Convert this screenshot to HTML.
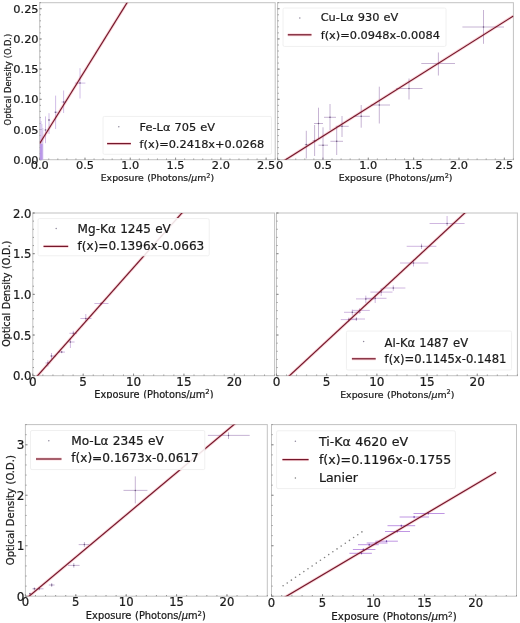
<!DOCTYPE html>
<html><head><meta charset="utf-8"><title>Optical density calibration</title>
<style>html,body{margin:0;padding:0;background:#fff}svg{display:block}text{font-family:"DejaVu Sans","Liberation Sans",sans-serif;fill:#1a1a1a;stroke:#1a1a1a;stroke-width:0.22px;word-spacing:0.5px}</style></head><body>
<svg width="520" height="623" viewBox="0 0 520 623">
<rect width="520" height="623" fill="#fff"/>
<defs>
<clipPath id="c1"><rect x="39.7" y="2.7" width="235.5" height="157"/></clipPath>
<clipPath id="c2"><rect x="277.6" y="2.7" width="235.8" height="157"/></clipPath>
<clipPath id="c3"><rect x="32.8" y="213" width="241.8" height="162.7"/></clipPath>
<clipPath id="c4"><rect x="276.5" y="213" width="240.9" height="162.7"/></clipPath>
<clipPath id="c5"><rect x="25.4" y="424.6" width="241.9" height="171.6"/></clipPath>
<clipPath id="c6"><rect x="271.5" y="424.6" width="245" height="171.6"/></clipPath>
</defs>
<rect x="39.7" y="2.7" width="235.5" height="157" fill="#fff" stroke="#c2c2c2" stroke-width="1"/>
<path d="M39.7 159.7v-1.2M48.76 159.7v-1.2M57.82 159.7v-1.2M66.87 159.7v-1.2M75.93 159.7v-1.2M84.99 159.7v-1.2M94.05 159.7v-1.2M103.1 159.7v-1.2M112.16 159.7v-1.2M121.22 159.7v-1.2M130.28 159.7v-1.2M139.33 159.7v-1.2M148.39 159.7v-1.2M157.45 159.7v-1.2M166.51 159.7v-1.2M175.57 159.7v-1.2M184.62 159.7v-1.2M193.68 159.7v-1.2M202.74 159.7v-1.2M211.8 159.7v-1.2M220.85 159.7v-1.2M229.91 159.7v-1.2M238.97 159.7v-1.2M248.03 159.7v-1.2M257.08 159.7v-1.2M266.14 159.7v-1.2M275.2 159.7v-1.2M39.7 159.7v-2.2M84.99 159.7v-2.2M130.28 159.7v-2.2M175.57 159.7v-2.2M220.85 159.7v-2.2M266.14 159.7v-2.2M39.7 159.7h1.2M39.7 153.66h1.2M39.7 147.62h1.2M39.7 141.58h1.2M39.7 135.55h1.2M39.7 129.51h1.2M39.7 123.47h1.2M39.7 117.43h1.2M39.7 111.39h1.2M39.7 105.35h1.2M39.7 99.32h1.2M39.7 93.28h1.2M39.7 87.24h1.2M39.7 81.2h1.2M39.7 75.16h1.2M39.7 69.12h1.2M39.7 63.08h1.2M39.7 57.05h1.2M39.7 51.01h1.2M39.7 44.97h1.2M39.7 38.93h1.2M39.7 32.89h1.2M39.7 26.85h1.2M39.7 20.82h1.2M39.7 14.78h1.2M39.7 8.74h1.2M39.7 2.7h1.2M39.7 159.7h2.2M39.7 129.51h2.2M39.7 99.32h2.2M39.7 69.12h2.2M39.7 38.93h2.2M39.7 8.74h2.2" stroke="#808080" stroke-width="0.8" fill="none"/>
<rect x="277.6" y="2.7" width="235.8" height="157" fill="#fff" stroke="#c2c2c2" stroke-width="1"/>
<path d="M277.6 159.7v-1.2M286.67 159.7v-1.2M295.74 159.7v-1.2M304.81 159.7v-1.2M313.88 159.7v-1.2M322.95 159.7v-1.2M332.02 159.7v-1.2M341.08 159.7v-1.2M350.15 159.7v-1.2M359.22 159.7v-1.2M368.29 159.7v-1.2M377.36 159.7v-1.2M386.43 159.7v-1.2M395.5 159.7v-1.2M404.57 159.7v-1.2M413.64 159.7v-1.2M422.71 159.7v-1.2M431.78 159.7v-1.2M440.85 159.7v-1.2M449.92 159.7v-1.2M458.98 159.7v-1.2M468.05 159.7v-1.2M477.12 159.7v-1.2M486.19 159.7v-1.2M495.26 159.7v-1.2M504.33 159.7v-1.2M513.4 159.7v-1.2M277.6 159.7v-2.2M322.95 159.7v-2.2M368.29 159.7v-2.2M413.64 159.7v-2.2M458.98 159.7v-2.2M504.33 159.7v-2.2M277.6 159.7h1.2M277.6 153.66h1.2M277.6 147.62h1.2M277.6 141.58h1.2M277.6 135.55h1.2M277.6 129.51h1.2M277.6 123.47h1.2M277.6 117.43h1.2M277.6 111.39h1.2M277.6 105.35h1.2M277.6 99.32h1.2M277.6 93.28h1.2M277.6 87.24h1.2M277.6 81.2h1.2M277.6 75.16h1.2M277.6 69.12h1.2M277.6 63.08h1.2M277.6 57.05h1.2M277.6 51.01h1.2M277.6 44.97h1.2M277.6 38.93h1.2M277.6 32.89h1.2M277.6 26.85h1.2M277.6 20.82h1.2M277.6 14.78h1.2M277.6 8.74h1.2M277.6 2.7h1.2M277.6 159.7h2.2M277.6 129.51h2.2M277.6 99.32h2.2M277.6 69.12h2.2M277.6 38.93h2.2M277.6 8.74h2.2" stroke="#808080" stroke-width="0.8" fill="none"/>
<g clip-path="url(#c1)">
<path d="M40.1 117.5V160M41 121V160M41.9 124V160M42.8 128V160" stroke="#cbb6ea" stroke-width="0.8" fill="none"/>
<rect x="39.7" y="144" width="2.9" height="16" fill="#b48ee6" opacity="0.85"/>
</g>
<path d="M74.8 83.1H85.4M80 68.2V98.5M61.5 102H66M63.6 90.5V113M54 112.2H57.5M55.6 95.6V129M48 120H50.2M49 113.2V134M44.6 130H46.4M45.5 116.4V143.2" stroke="#b99bdc" stroke-width="0.65" fill="none"/>
<g fill="#6c5f7c"><circle cx="80" cy="83.1" r="0.75"/><circle cx="63.6" cy="102" r="0.75"/><circle cx="55.6" cy="112.2" r="0.75"/><circle cx="49" cy="120" r="0.75"/><circle cx="45.5" cy="130" r="0.75"/></g>
<g clip-path="url(#c1)"><line x1="39.7" y1="143.52" x2="275.2" y2="-236.11" stroke="#e8324c" stroke-opacity="0.2" stroke-width="3"/><line x1="39.7" y1="143.52" x2="275.2" y2="-236.11" stroke="#74172a" stroke-width="1.2"/></g>
<path d="M304.8 144.6H307.8M306.3 130.8V158.5M312.6 140.8H316.6M314.6 125V156M314 123.5H323M318.5 107.7V139M318.5 145.2H328M323 127.3V159.5M324 117.3H336M330 104V130M330.4 141.3H343M336.7 127V155M335.8 126.3H348.7M342 116V137M353.5 116.3H369.8M361.2 105V127.7M370.8 105H390M379.3 86.7V123.5M396 88.5H422.5M409 78.5V99.5M421.3 63.5H455M438.4 52.5V75.5M462.4 27H504M483.5 10V43.8" stroke="#a98bbd" stroke-width="0.65" fill="none"/>
<g fill="#6c5f7c"><circle cx="306.3" cy="144.6" r="0.75"/><circle cx="314.6" cy="140.8" r="0.75"/><circle cx="318.5" cy="123.5" r="0.75"/><circle cx="323" cy="145.2" r="0.75"/><circle cx="330" cy="117.3" r="0.75"/><circle cx="336.7" cy="141.3" r="0.75"/><circle cx="342" cy="126.3" r="0.75"/><circle cx="361.2" cy="116.3" r="0.75"/><circle cx="379.3" cy="105" r="0.75"/><circle cx="409" cy="88.5" r="0.75"/><circle cx="438.4" cy="63.5" r="0.75"/><circle cx="483.5" cy="27" r="0.75"/></g>
<g clip-path="url(#c2)"><line x1="277.6" y1="164.77" x2="513.4" y2="15.94" stroke="#e8324c" stroke-opacity="0.2" stroke-width="3"/><line x1="277.6" y1="164.77" x2="513.4" y2="15.94" stroke="#74172a" stroke-width="1.2"/></g>
<rect x="103" y="116.4" width="168.5" height="37.9" rx="1.5" fill="#fff" fill-opacity="0.87" stroke="#f0f0f0" stroke-width="1"/>
<circle cx="118.8" cy="126.8" r="0.75" fill="#8f889c"/>
<text x="139.6" y="130.8" font-size="11.35">Fe-Lα 705 eV</text>
<line x1="107.1" y1="143.6" x2="130.9" y2="143.6" stroke="#e8324c" stroke-opacity="0.2" stroke-width="3"/><line x1="107.1" y1="143.6" x2="130.9" y2="143.6" stroke="#74172a" stroke-width="1.25"/>
<text x="139.6" y="147.9" font-size="11.35">f(x)=0.2418x+0.0268</text>
<rect x="283" y="8" width="163" height="38.4" rx="1.5" fill="#fff" fill-opacity="0.87" stroke="#f0f0f0" stroke-width="1"/>
<circle cx="299.8" cy="18" r="0.75" fill="#8f889c"/>
<text x="320.7" y="21.4" font-size="11.35">Cu-Lα 930 eV</text>
<line x1="287.8" y1="34.8" x2="311.5" y2="34.8" stroke="#e8324c" stroke-opacity="0.2" stroke-width="3"/><line x1="287.8" y1="34.8" x2="311.5" y2="34.8" stroke="#74172a" stroke-width="1.25"/>
<text x="320.7" y="38.9" font-size="11.35">f(x)=0.0948x-0.0084</text>
<text x="38.6" y="163.84" font-size="11.35" text-anchor="end">0.00</text>
<text x="38.6" y="133.65" font-size="11.35" text-anchor="end">0.05</text>
<text x="38.6" y="103.46" font-size="11.35" text-anchor="end">0.10</text>
<text x="38.6" y="73.27" font-size="11.35" text-anchor="end">0.15</text>
<text x="38.6" y="43.07" font-size="11.35" text-anchor="end">0.20</text>
<text x="38.6" y="12.88" font-size="11.35" text-anchor="end">0.25</text>
<text x="39.7" y="168.9" font-size="11.35" text-anchor="middle">0.0</text>
<text x="84.99" y="168.9" font-size="11.35" text-anchor="middle">0.5</text>
<text x="130.28" y="168.9" font-size="11.35" text-anchor="middle">1.0</text>
<text x="175.57" y="168.9" font-size="11.35" text-anchor="middle">1.5</text>
<text x="220.85" y="168.9" font-size="11.35" text-anchor="middle">2.0</text>
<text x="266.14" y="168.9" font-size="11.35" text-anchor="middle">2.5</text>
<text x="279.7" y="168.9" font-size="11.35" text-anchor="middle">0</text>
<text x="322.95" y="168.9" font-size="11.35" text-anchor="middle">0.5</text>
<text x="368.29" y="168.9" font-size="11.35" text-anchor="middle">1.0</text>
<text x="413.64" y="168.9" font-size="11.35" text-anchor="middle">1.5</text>
<text x="458.98" y="168.9" font-size="11.35" text-anchor="middle">2.0</text>
<text x="504.33" y="168.9" font-size="11.35" text-anchor="middle">2.5</text>
<text x="157.4" y="181.3" font-size="9.3" text-anchor="middle">Exposure (Photons/<tspan font-style="italic">μ</tspan>m<tspan font-size="6.51" dy="-3.35">2</tspan><tspan dy="3.35">)</tspan></text>
<text x="395.6" y="181.3" font-size="9.35" text-anchor="middle">Exposure (Photons/<tspan font-style="italic">μ</tspan>m<tspan font-size="6.54" dy="-3.37">2</tspan><tspan dy="3.37">)</tspan></text>
<text transform="translate(10.6 79.6) rotate(-90)" font-size="8.32" text-anchor="middle">Optical Density (O.D.)</text>
<rect x="0" y="183.2" width="520" height="14" fill="#fff"/>
<rect x="32.8" y="213" width="241.8" height="162.7" fill="#fff" stroke="#c2c2c2" stroke-width="1"/>
<path d="M32.8 375.7v-1.2M42.88 375.7v-1.2M52.95 375.7v-1.2M63.02 375.7v-1.2M73.1 375.7v-1.2M83.18 375.7v-1.2M93.25 375.7v-1.2M103.33 375.7v-1.2M113.4 375.7v-1.2M123.48 375.7v-1.2M133.55 375.7v-1.2M143.62 375.7v-1.2M153.7 375.7v-1.2M163.77 375.7v-1.2M173.85 375.7v-1.2M183.93 375.7v-1.2M194 375.7v-1.2M204.07 375.7v-1.2M214.15 375.7v-1.2M224.23 375.7v-1.2M234.3 375.7v-1.2M244.38 375.7v-1.2M254.45 375.7v-1.2M264.53 375.7v-1.2M274.6 375.7v-1.2M32.8 375.7v-2.2M83.18 375.7v-2.2M133.55 375.7v-2.2M183.93 375.7v-2.2M234.3 375.7v-2.2M32.8 375.7h1.2M32.8 367.56h1.2M32.8 359.43h1.2M32.8 351.29h1.2M32.8 343.16h1.2M32.8 335.02h1.2M32.8 326.89h1.2M32.8 318.75h1.2M32.8 310.62h1.2M32.8 302.49h1.2M32.8 294.35h1.2M32.8 286.21h1.2M32.8 278.08h1.2M32.8 269.94h1.2M32.8 261.81h1.2M32.8 253.68h1.2M32.8 245.54h1.2M32.8 237.4h1.2M32.8 229.27h1.2M32.8 221.13h1.2M32.8 213h1.2M32.8 375.7h2.2M32.8 335.02h2.2M32.8 294.35h2.2M32.8 253.68h2.2M32.8 213h2.2" stroke="#808080" stroke-width="0.8" fill="none"/>
<rect x="276.5" y="213" width="240.9" height="162.7" fill="#fff" stroke="#c2c2c2" stroke-width="1"/>
<path d="M276.5 375.7v-1.2M286.54 375.7v-1.2M296.57 375.7v-1.2M306.61 375.7v-1.2M316.65 375.7v-1.2M326.69 375.7v-1.2M336.73 375.7v-1.2M346.76 375.7v-1.2M356.8 375.7v-1.2M366.84 375.7v-1.2M376.88 375.7v-1.2M386.91 375.7v-1.2M396.95 375.7v-1.2M406.99 375.7v-1.2M417.02 375.7v-1.2M427.06 375.7v-1.2M437.1 375.7v-1.2M447.14 375.7v-1.2M457.17 375.7v-1.2M467.21 375.7v-1.2M477.25 375.7v-1.2M487.29 375.7v-1.2M497.32 375.7v-1.2M507.36 375.7v-1.2M517.4 375.7v-1.2M276.5 375.7v-2.2M326.69 375.7v-2.2M376.88 375.7v-2.2M427.06 375.7v-2.2M477.25 375.7v-2.2M276.5 375.7h1.2M276.5 367.56h1.2M276.5 359.43h1.2M276.5 351.29h1.2M276.5 343.16h1.2M276.5 335.02h1.2M276.5 326.89h1.2M276.5 318.75h1.2M276.5 310.62h1.2M276.5 302.49h1.2M276.5 294.35h1.2M276.5 286.21h1.2M276.5 278.08h1.2M276.5 269.94h1.2M276.5 261.81h1.2M276.5 253.68h1.2M276.5 245.54h1.2M276.5 237.4h1.2M276.5 229.27h1.2M276.5 221.13h1.2M276.5 213h1.2M276.5 375.7h2.2M276.5 335.02h2.2M276.5 294.35h2.2M276.5 253.68h2.2M276.5 213h2.2" stroke="#808080" stroke-width="0.8" fill="none"/>
<path d="M45.4 363H50.2M47.9 360.2V366.5M50.2 356H56M51.5 353V359M57.9 352.1H65M61.7 351V353.2M69.4 342H74.6M70.4 338V348M69.4 333.3H77M73.3 330.8V335.8M80.4 318.5H91.5M85.8 314V320.8M94.4 303.5H108.5M101.2 302V305" stroke="#b690cf" stroke-width="0.65" fill="none"/>
<g fill="#6c5f7c"><circle cx="47.9" cy="363" r="0.75"/><circle cx="51.5" cy="356" r="0.75"/><circle cx="61.7" cy="352.1" r="0.75"/><circle cx="70.4" cy="342" r="0.75"/><circle cx="73.3" cy="333.3" r="0.75"/><circle cx="85.8" cy="318.5" r="0.75"/><circle cx="101.2" cy="303.5" r="0.75"/></g>
<g clip-path="url(#c3)"><line x1="32.8" y1="381.09" x2="254.45" y2="131.25" stroke="#e8324c" stroke-opacity="0.2" stroke-width="3"/><line x1="32.8" y1="381.09" x2="254.45" y2="131.25" stroke="#74172a" stroke-width="1.2"/></g>
<path d="M429.6 223.5H464.6M447.1 216V226M406.7 246.3H436.4M421.5 243.7V249M400 263H428.3M413.5 259.8V266.5M382.5 288H405.4M393.3 285.4V290.8M370.4 292.1H392.5M381.2 288V296M365 298.3H386.5M375.2 294.8V303M356 298.9H375.8M365.8 295.6V303M352 310.4H369.8M359.6 308.3V313.7M344 312.3H361M352.3 309.6V315.5M348.3 319H365M356.4 317V321M340.8 319.6H357M348.8 317.6V321.6" stroke="#b690cf" stroke-width="0.65" fill="none"/>
<g fill="#6c5f7c"><circle cx="447.1" cy="223.5" r="0.75"/><circle cx="421.5" cy="246.3" r="0.75"/><circle cx="413.5" cy="263" r="0.75"/><circle cx="393.3" cy="288" r="0.75"/><circle cx="381.2" cy="292.1" r="0.75"/><circle cx="375.2" cy="298.3" r="0.75"/><circle cx="365.8" cy="298.9" r="0.75"/><circle cx="359.6" cy="310.4" r="0.75"/><circle cx="352.3" cy="312.3" r="0.75"/><circle cx="356.4" cy="319" r="0.75"/><circle cx="348.8" cy="319.6" r="0.75"/></g>
<g clip-path="url(#c4)"><line x1="276.5" y1="387.75" x2="497.32" y2="182.83" stroke="#e8324c" stroke-opacity="0.2" stroke-width="3"/><line x1="276.5" y1="387.75" x2="497.32" y2="182.83" stroke="#74172a" stroke-width="1.2"/></g>
<rect x="38" y="218.6" width="171.2" height="37.2" rx="1.5" fill="#fff" fill-opacity="0.87" stroke="#f0f0f0" stroke-width="1"/>
<circle cx="56.2" cy="228.6" r="0.75" fill="#8f889c"/>
<text x="77.6" y="232.9" font-size="12.05">Mg-Kα 1245 eV</text>
<line x1="43.5" y1="246.4" x2="68.2" y2="246.4" stroke="#e8324c" stroke-opacity="0.2" stroke-width="3"/><line x1="43.5" y1="246.4" x2="68.2" y2="246.4" stroke="#74172a" stroke-width="1.25"/>
<text x="77.6" y="250" font-size="12.05">f(x)=0.1396x-0.0663</text>
<rect x="346.4" y="331" width="165.2" height="39" rx="1.5" fill="#fff" fill-opacity="0.87" stroke="#f0f0f0" stroke-width="1"/>
<circle cx="363.6" cy="341.6" r="0.75" fill="#8f889c"/>
<text x="384.6" y="346.9" font-size="11.6">Al-Kα 1487 eV</text>
<line x1="351.9" y1="358.8" x2="375.7" y2="358.8" stroke="#e8324c" stroke-opacity="0.2" stroke-width="3"/><line x1="351.9" y1="358.8" x2="375.7" y2="358.8" stroke="#74172a" stroke-width="1.25"/>
<text x="384.6" y="363" font-size="11.6">f(x)=0.1145x-0.1481</text>
<text x="31.4" y="380.33" font-size="11.6" text-anchor="end">0.0</text>
<text x="31.4" y="339.66" font-size="11.6" text-anchor="end">0.5</text>
<text x="31.4" y="298.98" font-size="11.6" text-anchor="end">1.0</text>
<text x="31.4" y="258.31" font-size="11.6" text-anchor="end">1.5</text>
<text x="31.4" y="217.63" font-size="11.6" text-anchor="end">2.0</text>
<text x="32.8" y="385.8" font-size="12.0" text-anchor="middle">0</text>
<text x="83.18" y="385.8" font-size="12.0" text-anchor="middle">5</text>
<text x="133.55" y="385.8" font-size="12.0" text-anchor="middle">10</text>
<text x="183.93" y="385.8" font-size="12.0" text-anchor="middle">15</text>
<text x="234.3" y="385.8" font-size="12.0" text-anchor="middle">20</text>
<text x="276.5" y="385.8" font-size="12.0" text-anchor="middle">0</text>
<text x="326.69" y="385.8" font-size="12.0" text-anchor="middle">5</text>
<text x="376.88" y="385.8" font-size="12.0" text-anchor="middle">10</text>
<text x="427.06" y="385.8" font-size="12.0" text-anchor="middle">15</text>
<text x="477.25" y="385.8" font-size="12.0" text-anchor="middle">20</text>
<text x="153.9" y="397.8" font-size="9.8" text-anchor="middle">Exposure (Photons/<tspan font-style="italic">μ</tspan>m<tspan font-size="6.86" dy="-3.53">2</tspan><tspan dy="3.53">)</tspan></text>
<text x="397.3" y="397.6" font-size="9.4" text-anchor="middle">Exposure (Photons/<tspan font-style="italic">μ</tspan>m<tspan font-size="6.58" dy="-3.38">2</tspan><tspan dy="3.38">)</tspan></text>
<text transform="translate(10.4 293.8) rotate(-90)" font-size="9.65" text-anchor="middle">Optical Density (O.D.)</text>
<rect x="0" y="398.5" width="276" height="12" fill="#fff"/>
<rect x="25.4" y="424.6" width="241.9" height="171.6" fill="#fff" stroke="#c2c2c2" stroke-width="1"/>
<path d="M25.4 596.2v-1.2M35.48 596.2v-1.2M45.56 596.2v-1.2M55.64 596.2v-1.2M65.72 596.2v-1.2M75.8 596.2v-1.2M85.88 596.2v-1.2M95.95 596.2v-1.2M106.03 596.2v-1.2M116.11 596.2v-1.2M126.19 596.2v-1.2M136.27 596.2v-1.2M146.35 596.2v-1.2M156.43 596.2v-1.2M166.51 596.2v-1.2M176.59 596.2v-1.2M186.67 596.2v-1.2M196.75 596.2v-1.2M206.83 596.2v-1.2M216.9 596.2v-1.2M226.98 596.2v-1.2M237.06 596.2v-1.2M247.14 596.2v-1.2M257.22 596.2v-1.2M267.3 596.2v-1.2M25.4 596.2v-2.2M75.8 596.2v-2.2M126.19 596.2v-2.2M176.59 596.2v-2.2M226.98 596.2v-2.2M25.4 596.2h1.2M25.4 586.11h1.2M25.4 576.01h1.2M25.4 565.92h1.2M25.4 555.82h1.2M25.4 545.73h1.2M25.4 535.64h1.2M25.4 525.54h1.2M25.4 515.45h1.2M25.4 505.35h1.2M25.4 495.26h1.2M25.4 485.16h1.2M25.4 475.07h1.2M25.4 464.98h1.2M25.4 454.88h1.2M25.4 444.79h1.2M25.4 434.69h1.2M25.4 424.6h1.2M25.4 596.2h2.2M25.4 545.73h2.2M25.4 495.26h2.2M25.4 444.79h2.2" stroke="#808080" stroke-width="0.8" fill="none"/>
<rect x="271.5" y="424.6" width="245" height="171.6" fill="#fff" stroke="#c2c2c2" stroke-width="1"/>
<path d="M271.5 596.2v-1.2M281.71 596.2v-1.2M291.92 596.2v-1.2M302.12 596.2v-1.2M312.33 596.2v-1.2M322.54 596.2v-1.2M332.75 596.2v-1.2M342.96 596.2v-1.2M353.17 596.2v-1.2M363.38 596.2v-1.2M373.58 596.2v-1.2M383.79 596.2v-1.2M394 596.2v-1.2M404.21 596.2v-1.2M414.42 596.2v-1.2M424.62 596.2v-1.2M434.83 596.2v-1.2M445.04 596.2v-1.2M455.25 596.2v-1.2M465.46 596.2v-1.2M475.67 596.2v-1.2M485.88 596.2v-1.2M496.08 596.2v-1.2M506.29 596.2v-1.2M516.5 596.2v-1.2M271.5 596.2v-2.2M322.54 596.2v-2.2M373.58 596.2v-2.2M424.62 596.2v-2.2M475.67 596.2v-2.2M271.5 596.2h1.2M271.5 586.11h1.2M271.5 576.01h1.2M271.5 565.92h1.2M271.5 555.82h1.2M271.5 545.73h1.2M271.5 535.64h1.2M271.5 525.54h1.2M271.5 515.45h1.2M271.5 505.35h1.2M271.5 495.26h1.2M271.5 485.16h1.2M271.5 475.07h1.2M271.5 464.98h1.2M271.5 454.88h1.2M271.5 444.79h1.2M271.5 434.69h1.2M271.5 424.6h1.2M271.5 596.2h2.2M271.5 545.73h2.2M271.5 495.26h2.2M271.5 444.79h2.2" stroke="#808080" stroke-width="0.8" fill="none"/>
<path d="M78.7 544.6H89.2M84.4 542V547M68 565.4H79.6M73.8 563V567.7M48.8 585H54.6M51.7 583V587M37.7 588.8H43.5M39.2 587.3V590.3M32.4 588.8H36.4M34.4 587.3V590.3M29 593.7H31M30 592.7V594.7M123.5 490.4H147.4M135.3 476.4V503.4M207.9 435.4H249.7M228.5 432.4V439" stroke="#a98bbd" stroke-width="0.65" fill="none"/>
<g fill="#6c5f7c"><circle cx="84.4" cy="544.6" r="0.75"/><circle cx="73.8" cy="565.4" r="0.75"/><circle cx="51.7" cy="585" r="0.75"/><circle cx="39.2" cy="588.8" r="0.75"/><circle cx="34.4" cy="588.8" r="0.75"/><circle cx="30" cy="593.7" r="0.75"/><circle cx="135.3" cy="490.4" r="0.75"/><circle cx="228.5" cy="435.4" r="0.75"/></g>
<g clip-path="url(#c5)"><line x1="25.4" y1="599.31" x2="247.14" y2="413.55" stroke="#e8324c" stroke-opacity="0.2" stroke-width="3"/><line x1="25.4" y1="599.31" x2="247.14" y2="413.55" stroke="#74172a" stroke-width="1.2"/></g>
<path d="M413.5 513.5H444.6M428.3 512.3V514.7M399.6 517H429M414.1 515.8V518.2M387.5 525.7H415.2M401.3 524.5V526.9M385 531.5H410M397.2 530.3V532.7M375.4 541.2H397.9M386.5 540V542.4M366.7 543H387.5M376.1 541.8V544.2M358 544.7H378.8M369.2 543.5V545.9M352.9 549.5H375.4M363.3 548.3V550.7M349.4 553.3H371.9M361.5 552.1V554.5" stroke="#b98ae0" stroke-width="0.9" fill="none"/>
<g fill="#6a4aa0"><circle cx="428.3" cy="513.5" r="0.75"/><circle cx="414.1" cy="517" r="0.75"/><circle cx="401.3" cy="525.7" r="0.75"/><circle cx="397.2" cy="531.5" r="0.75"/><circle cx="386.5" cy="541.2" r="0.75"/><circle cx="376.1" cy="543" r="0.75"/><circle cx="369.2" cy="544.7" r="0.75"/><circle cx="363.3" cy="549.5" r="0.75"/><circle cx="361.5" cy="553.3" r="0.75"/></g>
<g clip-path="url(#c6)"><line x1="271.5" y1="605.06" x2="496.08" y2="472.26" stroke="#e8324c" stroke-opacity="0.2" stroke-width="3"/><line x1="271.5" y1="605.06" x2="496.08" y2="472.26" stroke="#74172a" stroke-width="1.2"/></g>
<g fill="#808080"><circle cx="283.1" cy="585.8" r="0.8"/><circle cx="287.25" cy="582.96" r="0.8"/><circle cx="291.39" cy="580.13" r="0.8"/><circle cx="295.54" cy="577.29" r="0.8"/><circle cx="299.69" cy="574.45" r="0.8"/><circle cx="303.84" cy="571.62" r="0.8"/><circle cx="307.98" cy="568.78" r="0.8"/><circle cx="312.13" cy="565.94" r="0.8"/><circle cx="316.28" cy="563.11" r="0.8"/><circle cx="320.43" cy="560.27" r="0.8"/><circle cx="324.57" cy="557.43" r="0.8"/><circle cx="328.72" cy="554.59" r="0.8"/><circle cx="332.87" cy="551.76" r="0.8"/><circle cx="337.02" cy="548.92" r="0.8"/><circle cx="341.16" cy="546.08" r="0.8"/><circle cx="345.31" cy="543.25" r="0.8"/><circle cx="349.46" cy="540.41" r="0.8"/><circle cx="353.61" cy="537.57" r="0.8"/><circle cx="357.75" cy="534.74" r="0.8"/><circle cx="361.9" cy="531.9" r="0.8"/></g>
<rect x="30.5" y="430.5" width="174.3" height="39.1" rx="1.5" fill="#fff" fill-opacity="0.87" stroke="#f0f0f0" stroke-width="1"/>
<circle cx="48.8" cy="440.7" r="0.75" fill="#8f889c"/>
<text x="71.2" y="444.9" font-size="12.15">Mo-Lα 2345 eV</text>
<line x1="36" y1="459" x2="61.5" y2="459" stroke="#e8324c" stroke-opacity="0.2" stroke-width="3"/><line x1="36" y1="459" x2="61.5" y2="459" stroke="#74172a" stroke-width="1.25"/>
<text x="71.2" y="462.4" font-size="12.15">f(x)=0.1673x-0.0617</text>
<rect x="276.6" y="430.8" width="178.8" height="57.8" rx="1.5" fill="#fff" fill-opacity="0.87" stroke="#f0f0f0" stroke-width="1"/>
<circle cx="295.4" cy="441.3" r="0.75" fill="#8f889c"/>
<text x="318.9" y="446" font-size="12.6">Ti-Kα 4620 eV</text>
<line x1="282.4" y1="459.6" x2="308.6" y2="459.6" stroke="#e8324c" stroke-opacity="0.2" stroke-width="3"/><line x1="282.4" y1="459.6" x2="308.6" y2="459.6" stroke="#74172a" stroke-width="1.25"/>
<text x="318.9" y="464" font-size="12.6">f(x)=0.1196x-0.1755</text>
<circle cx="295.4" cy="478" r="0.75" fill="#7d7d7d"/>
<text x="318.9" y="482.4" font-size="12.6">Lanier</text>
<text x="24.4" y="600.58" font-size="12.0" text-anchor="end">0</text>
<text x="24.4" y="550.11" font-size="12.0" text-anchor="end">1</text>
<text x="24.4" y="499.64" font-size="12.0" text-anchor="end">2</text>
<text x="24.4" y="449.17" font-size="12.0" text-anchor="end">3</text>
<text x="25.4" y="606.4" font-size="11.6" text-anchor="middle">0</text>
<text x="75.8" y="606.4" font-size="11.6" text-anchor="middle">5</text>
<text x="126.19" y="606.4" font-size="11.6" text-anchor="middle">10</text>
<text x="176.59" y="606.4" font-size="11.6" text-anchor="middle">15</text>
<text x="226.98" y="606.4" font-size="11.6" text-anchor="middle">20</text>
<text x="271.5" y="606.5" font-size="11.6" text-anchor="middle">0</text>
<text x="322.54" y="606.5" font-size="11.6" text-anchor="middle">5</text>
<text x="373.58" y="606.5" font-size="11.6" text-anchor="middle">10</text>
<text x="424.62" y="606.5" font-size="11.6" text-anchor="middle">15</text>
<text x="475.67" y="606.5" font-size="11.6" text-anchor="middle">20</text>
<text x="145.8" y="619.3" font-size="9.86" text-anchor="middle">Exposure (Photons/<tspan font-style="italic">μ</tspan>m<tspan font-size="6.9" dy="-3.55">2</tspan><tspan dy="3.55">)</tspan></text>
<text x="394" y="620.3" font-size="10.3" text-anchor="middle">Exposure (Photons/<tspan font-style="italic">μ</tspan>m<tspan font-size="7.21" dy="-3.71">2</tspan><tspan dy="3.71">)</tspan></text>
<text transform="translate(14.2 510.2) rotate(-90)" font-size="10.0" text-anchor="middle">Optical Density (O.D.)</text>
</svg></body></html>
